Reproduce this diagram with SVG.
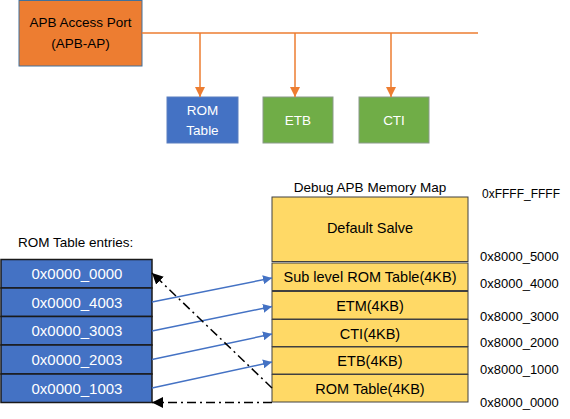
<svg xmlns="http://www.w3.org/2000/svg" width="570" height="419" viewBox="0 0 570 419">
<defs>
<marker id="ao" viewBox="0 0 10 10" refX="10" refY="5" markerWidth="10" markerHeight="10" markerUnits="userSpaceOnUse" orient="auto"><path d="M0,0 L10,5 L0,10 z" fill="#ED7D31"/></marker>
<marker id="ab" viewBox="0 0 10 10" refX="10" refY="5" markerWidth="9" markerHeight="9" markerUnits="userSpaceOnUse" orient="auto"><path d="M0,0 L10,5 L0,10 z" fill="#4472C4"/></marker>
<marker id="ak" viewBox="0 0 10 10" refX="10" refY="5" markerWidth="11" markerHeight="11" markerUnits="userSpaceOnUse" orient="auto"><path d="M0,0 L10,5 L0,10 z" fill="#000"/></marker>
<style>
text{font-family:"Liberation Sans",Arial,sans-serif;}
.w{fill:#fff;}
.k{fill:#000;}
.c{text-anchor:middle;}
.ent{fill:#4472C4;stroke:#1a1a1a;stroke-width:1.5;}
.mm{fill:#FFD966;stroke:#404040;stroke-width:1;}
.bus{stroke:#ED7D31;stroke-width:1.5;fill:none;}
.bl{stroke:#4472C4;stroke-width:1.5;fill:none;marker-end:url(#ab);}
.dd{stroke:#000;stroke-width:1.5;fill:none;stroke-dasharray:9 4 2 4;marker-end:url(#ak);}
</style>
</defs>

<g id="apb-ap">
<rect x="19" y="0.5" width="123" height="65.5" fill="#ED7D31" stroke="#41719C" stroke-width="1"/>
<text x="80.5" y="27" font-size="13.5" class="k c">APB Access Port</text>
<text x="80.5" y="48" font-size="13.5" class="k c">(APB-AP)</text>
</g>
<g id="rom-top">
<rect x="167" y="97" width="71" height="46" fill="#4472C4" stroke="#5B7FBF" stroke-width="1"/>
<text x="202.5" y="115" font-size="13.5" class="w c">ROM</text>
<text x="202.5" y="135" font-size="13.5" class="w c">Table</text>
</g>
<g id="etb-top">
<rect x="263" y="97" width="70" height="46" fill="#70AD47" stroke="#8A9A8A" stroke-width="1"/>
<text x="298" y="125" font-size="13.5" class="w c">ETB</text>
</g>
<g id="cti-top">
<rect x="359" y="97" width="70" height="46" fill="#70AD47" stroke="#8A9A8A" stroke-width="1"/>
<text x="394" y="125" font-size="13.5" class="w c">CTI</text>
</g>

<text x="18" y="247" font-size="13.5" class="k">ROM Table entries:</text>
<g id="entry-0000"><rect class="ent" x="1" y="259.5" width="151" height="28.5"/><text x="77" y="278.5" font-size="15" class="w c">0x0000_0000</text></g>
<g id="entry-4003"><rect class="ent" x="1" y="288" width="151" height="28.5"/><text x="77" y="307.5" font-size="15" class="w c">0x0000_4003</text></g>
<g id="entry-3003"><rect class="ent" x="1" y="316.5" width="151" height="28.5"/><text x="77" y="336" font-size="15" class="w c">0x0000_3003</text></g>
<g id="entry-2003"><rect class="ent" x="1" y="345" width="151" height="29"/><text x="77" y="364.5" font-size="15" class="w c">0x0000_2003</text></g>
<g id="entry-1003"><rect class="ent" x="1" y="374" width="151" height="28.5"/><text x="77" y="393.5" font-size="15" class="w c">0x0000_1003</text></g>

<text x="370" y="191.5" font-size="13.5" class="k c">Debug APB Memory Map</text>
<g id="mm-default"><rect class="mm" x="272" y="197" width="196" height="64.5"/><text x="370" y="233" font-size="14.5" class="k c">Default Salve</text></g>
<g id="mm-sub"><rect class="mm" x="272" y="263" width="196" height="27.5"/><text x="370" y="282" font-size="14.5" class="k c">Sub level ROM Table(4KB)</text></g>
<g id="mm-etm"><rect class="mm" x="272" y="291.5" width="196" height="27.5"/><text x="370" y="311" font-size="14.5" class="k c">ETM(4KB)</text></g>
<g id="mm-cti"><rect class="mm" x="272" y="319.5" width="196" height="27"/><text x="370" y="338.5" font-size="14.5" class="k c">CTI(4KB)</text></g>
<g id="mm-etb"><rect class="mm" x="272" y="347" width="196" height="27"/><text x="370" y="365.5" font-size="14.5" class="k c">ETB(4KB)</text></g>
<g id="mm-rom"><rect class="mm" x="272" y="374.5" width="196" height="27.5"/><text x="370" y="393.5" font-size="14.5" class="k c">ROM Table(4KB)</text></g>

<g id="addresses" font-size="13">
<text x="482" y="198" font-size="12" class="k">0xFFFF_FFFF</text>
<text x="480" y="261" class="k">0x8000_5000</text>
<text x="480" y="287.5" class="k">0x8000_4000</text>
<text x="480" y="321" class="k">0x8000_3000</text>
<text x="480" y="347" class="k">0x8000_2000</text>
<text x="480" y="373.5" class="k">0x8000_1000</text>
<text x="480" y="407" class="k">0x8000_0000</text>
</g>

<g id="connectors">
<path class="bus" d="M142,33 H478"/>
<path class="bus" d="M200,33 V97" marker-end="url(#ao)"/>
<path class="bus" d="M295,33 V97" marker-end="url(#ao)"/>
<path class="bus" d="M391,33 V97" marker-end="url(#ao)"/>
<path class="bl" d="M152,302 L272,278"/>
<path class="bl" d="M152,331 L272,306.5"/>
<path class="bl" d="M152,359.5 L272,334"/>
<path class="bl" d="M152,388 L272,362"/>
<path class="dd" d="M272,388 L152,273"/>
<path class="dd" d="M272,402.5 L152,402.5"/>
</g>
</svg>
